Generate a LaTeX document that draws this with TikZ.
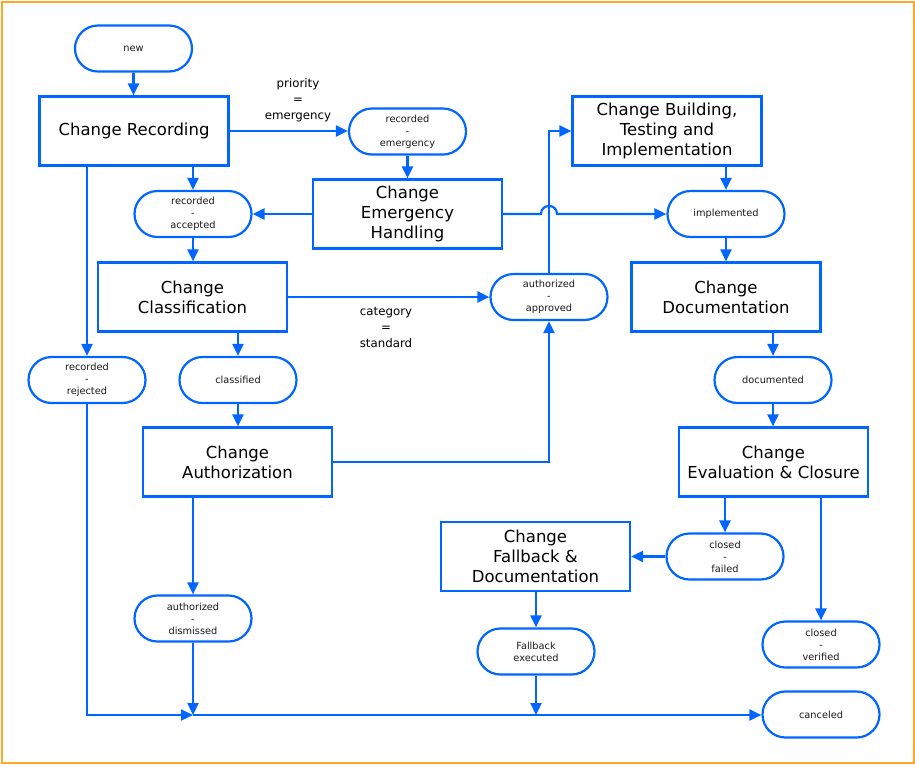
\documentclass[tikz,border=0pt]{standalone}
\usepackage{fontspec}
\setmainfont{DejaVu Sans}
\usetikzlibrary{arrows.meta}
\definecolor{cblue}{HTML}{0066FF}
\definecolor{cborder}{HTML}{FFA726}
\begin{document}
\begin{tikzpicture}[x=1pt,y=-1pt,
 proc/.style={draw=cblue,line width=2.2pt,minimum width=189pt,minimum height=69pt,inner sep=0pt,align=center,font=\fontsize{16.5}{20}\selectfont},
 state/.style={draw=cblue,line width=2.2pt,rounded corners=23pt,minimum width=117pt,minimum height=46pt,inner sep=0pt,align=center,font=\fontsize{9.8}{12}\selectfont,text=black!90},
 lbl/.style={align=center,font=\fontsize{11.8}{16}\selectfont},
 arr/.style={draw=cblue,line width=2.2pt,-{Triangle[length=12pt,width=11pt]}}]
\useasboundingbox (0,0) rectangle (915,764);
\draw[cborder,line width=2pt] (1.5,1.5) rectangle (913.5,762.5);
% nodes
\node[state] (new) at (133.5,48.5) {new};
\node[proc] (cr) at (134,131) {Change Recording};
\node[state] (re) at (407.5,131.5) {recorded\\-\\emergency};
\node[proc] (eh) at (407.5,214) {Change\\Emergency\\Handling};
\node[state] (ra) at (193,214) {recorded\\-\\accepted};
\node[proc] (cc) at (192.5,297) {Change\\Classification};
\node[state] (aa) at (549,297) {authorized\\-\\approved};
\node[proc] (cb) at (667,131) {Change Building,\\Testing and\\Implementation};
\node[state] (impl) at (726,214) {implemented};
\node[proc] (cdoc) at (726,297) {Change\\Documentation};
\node[state] (rr) at (87,380) {recorded\\-\\rejected};
\node[state] (cl) at (238,380) {classified};
\node[state] (docd) at (773,380) {documented};
\node[proc] (ca) at (237.5,462) {Change\\Authorization};
\node[proc] (ceval) at (773.5,462) {Change\\Evaluation \& Closure};
\node[proc] (cfb) at (535.5,556.5) {Change\\Fallback \&\\Documentation};
\node[state] (cf) at (725,556.5) {closed\\-\\failed};
\node[state] (ad) at (193,618.5) {authorized\\-\\dismissed};
\node[state] (fe) at (536,651.5) {Fallback\\executed};
\node[state] (cv) at (821,644.5) {closed\\-\\verified};
\node[state] (cancel) at (821,714.5) {canceled};
\node[lbl] (l1) at (298,100) {priority\\=\\emergency};
\node[lbl] (l2) at (386,327) {category\\=\\standard};
% helper coordinates
\coordinate (jA) at (541,214);
\coordinate (jB) at (557,214);
\coordinate (jAc) at (541,203.3);
\coordinate (jBc) at (557,203.3);
\coordinate (j1) at (193,715);
\coordinate (j2) at (536,715);
% connectors
\draw[arr] (new.south) -- (new.south |- cr.north);
\draw[arr] (cr.east) -- (cr.east -| re.west);
\draw[arr] (re.south) -- (re.south |- eh.north);
\draw[arr] (cr.south -| ra.north) -- (ra.north);
\draw[arr] (cr.south -| rr.north) -- (rr.north);
\draw[arr] (eh.west) -- (eh.west -| ra.east);
\draw[arr] (eh.east) -- (jA) .. controls (jAc) and (jBc) .. (jB) -- (jB -| impl.west);
\draw[arr] (ra.south) -- (ra.south |- cc.north);
\draw[arr] (cc.east) -- (cc.east -| aa.west);
\draw[arr] (aa.north) |- (cb.west);
\draw[arr] (cb.south -| impl.north) -- (impl.north);
\draw[arr] (impl.south) -- (impl.south |- cdoc.north);
\draw[arr] (cdoc.south -| docd.north) -- (docd.north);
\draw[arr] (docd.south) -- (docd.south |- ceval.north);
\draw[arr] (cc.south -| cl.north) -- (cl.north);
\draw[arr] (cl.south) -- (cl.south |- ca.north);
\draw[arr] (ca.east) -| (aa.south);
\draw[arr] (ca.south -| ad.north) -- (ad.north);
\draw[arr] (ceval.south -| cf.north) -- (cf.north);
\draw[arr] (ceval.south -| cv.north) -- (cv.north);
\draw[arr] (cf.west) -- (cf.west -| cfb.east);
\draw[arr] (cfb.south -| fe.north) -- (fe.north);
\draw[arr] (rr.south) |- (j1);
\draw[arr] (ad.south) -- (j1);
\draw[arr] (fe.south) -- (j2);
\draw[arr] (j1) -- (j1 -| cancel.west);
\end{tikzpicture}
\end{document}
